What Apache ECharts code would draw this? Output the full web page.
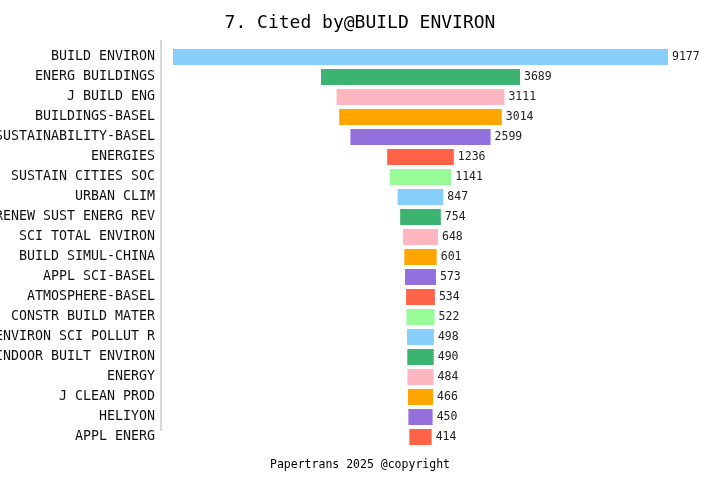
<!DOCTYPE html>
<html>
<head>
<meta charset="utf-8">
<script src="https://cdn.jsdelivr.net/npm/echarts@6/dist/echarts.min.js"></script>
<style>
  html, body { margin: 0; padding: 0; background: #fff; }
  #chart { width: 720px; height: 480px; }
</style>
</head>
<body>
<div id="chart"></div>
<script>
const journals = [
  'BUILD ENVIRON', 'ENERG BUILDINGS', 'J BUILD ENG', 'BUILDINGS-BASEL',
  'SUSTAINABILITY-BASEL', 'ENERGIES', 'SUSTAIN CITIES SOC', 'URBAN CLIM',
  'RENEW SUST ENERG REV', 'SCI TOTAL ENVIRON', 'BUILD SIMUL-CHINA', 'APPL SCI-BASEL',
  'ATMOSPHERE-BASEL', 'CONSTR BUILD MATER', 'ENVIRON SCI POLLUT R', 'INDOOR BUILT ENVIRON',
  'ENERGY', 'J CLEAN PROD', 'HELIYON', 'APPL ENERG'
]
const citations = [9177, 3689, 3111, 3014, 2599, 1236, 1141, 847, 754, 648,
  601, 573, 534, 522, 498, 490, 484, 466, 450, 414]
const palette = ['#87CEFA', '#3CB371', '#FFB6C1', '#FFA500', '#9370DB', '#FF6347', '#98FB98']

const maxVal = Math.max(...citations)
// invisible spacer so every bar sits centred on the widest one
const spacer = citations.map(v => (maxVal - v) / 2)

const chart = echarts.init(document.getElementById('chart'))
chart.setOption({
  animation: false,
  title: {
    text: '7. Cited by@BUILD ENVIRON',
    left: 'center',
    top: 9,
    textStyle: { fontFamily: 'DejaVu Sans Mono', fontSize: 18, fontWeight: 'normal', color: '#000' }
  },
  graphic: [
    {
      type: 'line',
      shape: { x1: 161, y1: 40, x2: 161, y2: 431 },
      style: { stroke: '#d9d9d9', lineWidth: 2 }
    },
    {
      type: 'text',
      left: 'center',
      top: 459,
      style: { text: 'Papertrans 2025 @copyright', font: '11.5px "DejaVu Sans Mono"', fill: '#000' }
    }
  ],
  grid: { left: 173, right: 52, top: 47, bottom: 33, containLabel: false, outerBoundsMode: 'none' },
  xAxis: { type: 'value', min: 0, max: maxVal, show: false },
  yAxis: {
    type: 'category',
    data: journals,
    inverse: true,
    offset: 12,
    axisLine: { show: false },
    axisTick: { show: false },
    axisLabel: { fontFamily: 'DejaVu Sans Mono', fontSize: 13.3, color: '#111', margin: 6 }
  },
  series: [
    {
      type: 'bar',
      stack: 'c',
      data: spacer,
      itemStyle: { color: 'transparent' },
      silent: true
    },
    {
      type: 'bar',
      stack: 'c',
      barWidth: 16,
      data: citations.map((v, i) => ({ value: v, itemStyle: { color: palette[i % palette.length] } })),
      label: {
        show: true,
        position: 'right',
        distance: 4,
        fontFamily: 'DejaVu Sans Mono',
        fontSize: 11.5,
        color: '#222'
      }
    }
  ]
})
</script>
</body>
</html>
